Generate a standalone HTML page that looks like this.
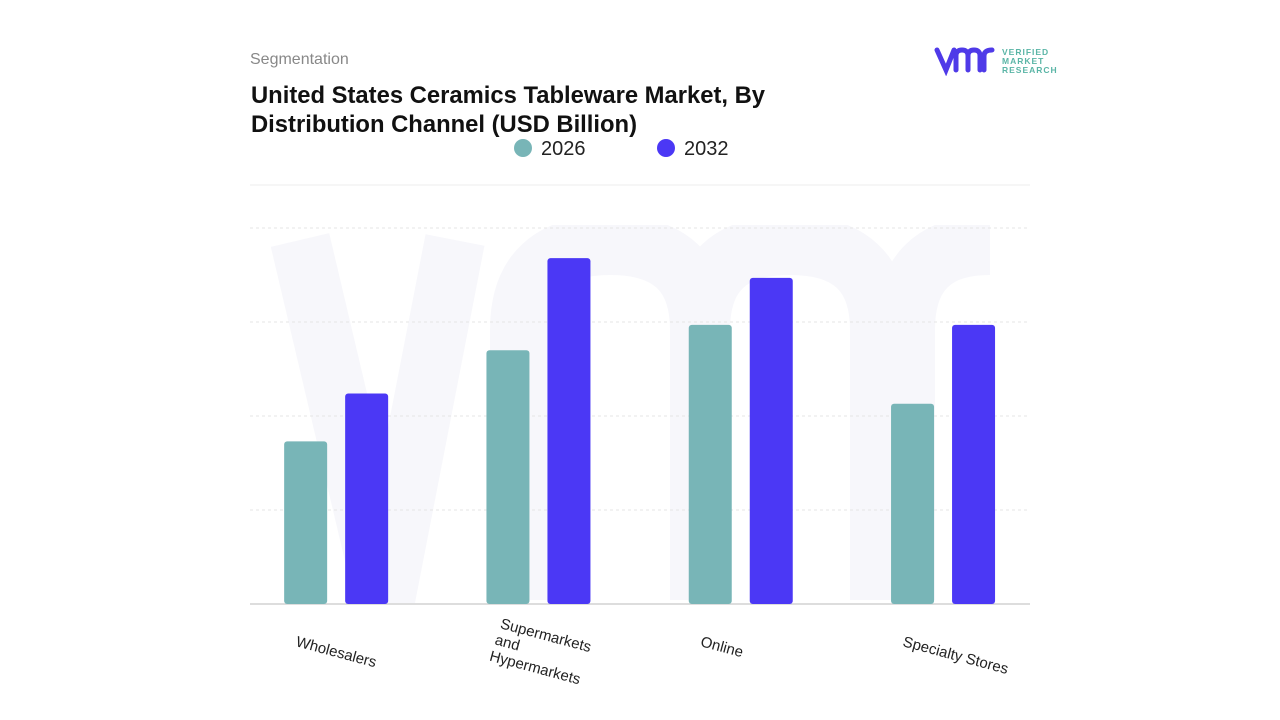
<!DOCTYPE html>
<html><head><meta charset="utf-8"><style>
body{margin:0;width:1280px;height:720px;background:#fff;font-family:"Liberation Sans",sans-serif;overflow:hidden;position:relative}
.abs{position:absolute}
</style></head><body>
<svg id="chart" class="abs" style="left:0;top:0" width="1280" height="720"></svg>
<div class="abs" style="left:250px;top:51px;font-size:16px;color:#888">Segmentation</div>
<div class="abs" style="left:251px;top:81px;font-size:23.8px;font-weight:bold;color:#111;line-height:29px;width:560px">United States Ceramics Tableware Market, By Distribution Channel (USD Billion)</div>
<svg class="abs" style="left:934px;top:44px" width="130" height="32">
<path d="M3 6 L12 26 L20 6 M22 26 L22 12 Q22 6 28 6 Q34 6 34 12 L34 26 M34 12 Q34 6 40 6 Q46 6 46 12 L46 26 M50 26 L50 12 Q50 6 58 6" stroke="#4f3ae8" stroke-width="5" fill="none" stroke-linecap="round"/>
<text x="68" y="11" font-size="8.5" fill="#5ab5a6" font-weight="bold" letter-spacing="1">VERIFIED</text>
<text x="68" y="20" font-size="8.5" fill="#5ab5a6" font-weight="bold" letter-spacing="1">MARKET</text>
<text x="68" y="29" font-size="8.5" fill="#5ab5a6" font-weight="bold" letter-spacing="1">RESEARCH</text>
</svg>
<script>
const categories=["Wholesalers","Supermarkets and Hypermarkets","Online","Specialty Stores"];
const series2026=[1.73,2.70,2.97,2.13];
const series2032=[2.24,3.68,3.47,2.97];
const seriesNames=["2026","2032"];
const colors=["#78b5b7","#4b38f5"];
const gridValues=[1,2,3,4];
const svg=document.getElementById('chart');
const NS="http://www.w3.org/2000/svg";
const y0=604,unit=94,bandStart=235,band=202.3;
const yScale=v=>y0-v*unit;
const xc=i=>bandStart+band*(i+0.5);
function mk(t,a){const e=document.createElementNS(NS,t);for(const k in a)e.setAttribute(k,a[k]);svg.appendChild(e);return e;}
const cp=mk('clipPath',{id:'wmclip'});
const cr=document.createElementNS(NS,'rect');cr.setAttribute('x',270);cr.setAttribute('y',225);cr.setAttribute('width',730);cr.setAttribute('height',378);cp.appendChild(cr);
const wm=mk('path',{d:"M300 240 L385 600 L455 240 M520 600 L520 330 Q520 245 610 245 Q700 245 700 330 L700 600 M700 330 Q700 245 790 245 Q880 245 880 330 L880 600 M905 600 L905 330 Q905 245 990 245","clip-path":"url(#wmclip)",stroke:"#f7f7fb","stroke-width":"60",fill:"none"});


const topLine=mk('line',{x1:250,x2:1030,y1:185,y2:185,stroke:"#eee"});


gridValues.forEach(v=>{const l=mk('line',{x1:250,x2:1030,y1:yScale(v),y2:yScale(v),stroke:"#e6e6e6","stroke-dasharray":"3,3"});

});
const base=mk('line',{x1:250,x2:1030,y1:y0,y2:y0,stroke:"#ddd","stroke-width":2});


[series2026,series2032].forEach((s,si)=>{s.forEach((v,i)=>{
const x=xc(i)+(si===0?-52:9);
const r=mk('rect',{x:x,y:yScale(v),width:43,height:v*unit,rx:3,fill:colors[si]});

});});
categories.forEach((c,i)=>{
const lx=xc(i)-41+(i==1?2:0), ly=i==1?628:646;
const t=mk('text',{x:lx,y:ly,"font-size":15,fill:"#222",transform:`rotate(15 ${lx} ${ly})`});


if(i==1){["Supermarkets","and","Hypermarkets"].forEach((w,k)=>{const ts=document.createElementNS(NS,'tspan');ts.setAttribute('x',lx-1*k);ts.setAttribute('dy',k?17:0);ts.textContent=w;t.appendChild(ts);});}
else t.textContent=c;});
seriesNames.forEach((n,k)=>{const cx=523+k*143;
const c=mk('circle',{cx:cx,cy:148,r:9,fill:colors[k]});


const t=mk('text',{x:cx+18,y:155,"font-size":20,fill:"#222"});


t.textContent=n;});
</script>
</body></html>
